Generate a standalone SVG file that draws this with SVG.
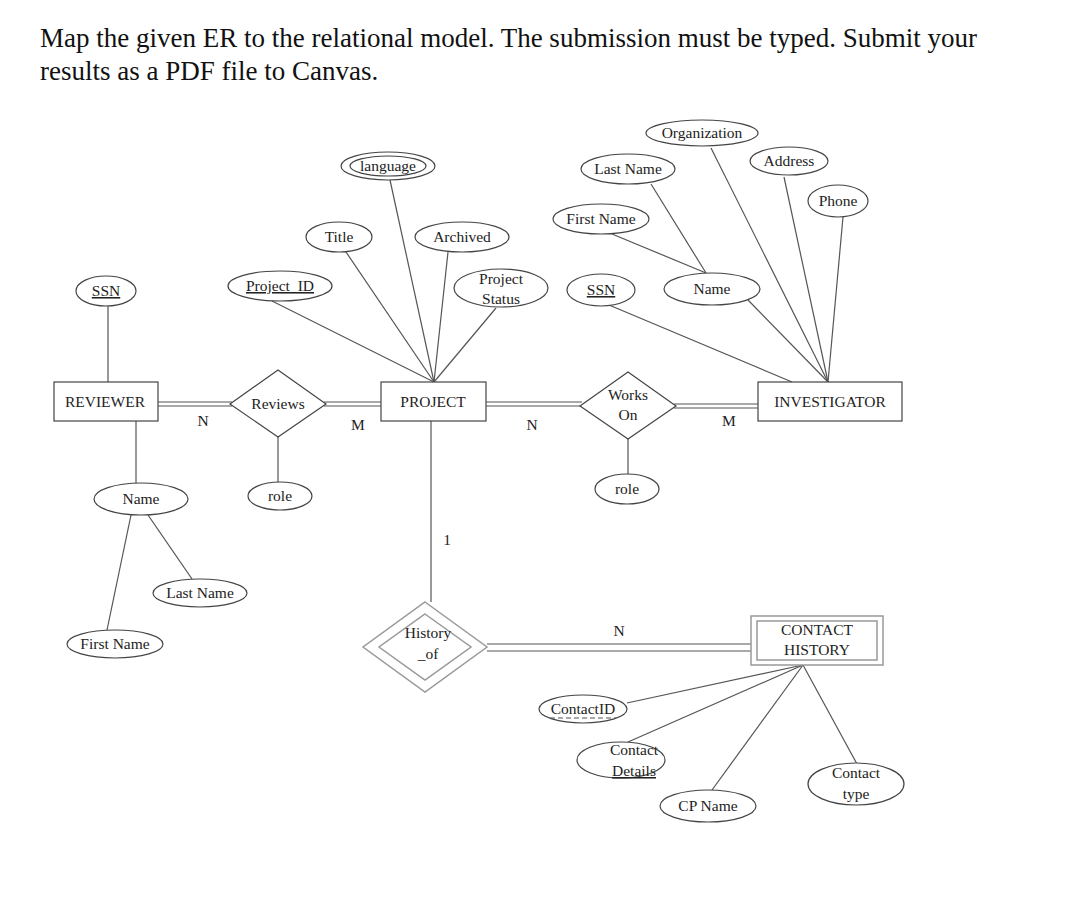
<svg xmlns="http://www.w3.org/2000/svg" width="1081" height="901" viewBox="0 0 1081 901">
<style>
text{font-family:"Liberation Serif","Times New Roman",serif;font-size:15.5px;fill:#222;text-anchor:middle}
.h{font-size:27px;text-anchor:start;fill:#111}
.s{fill:#fff;stroke:#444;stroke-width:1.2}
.g{fill:#fff;stroke:#999;stroke-width:1.5}
line,path{stroke:#555;stroke-width:1.2;fill:none}
</style>
<rect width="1081" height="901" fill="#fff"/>
<text class="h" x="40" y="47">Map the given ER to the relational model. The submission must be typed. Submit your</text>
<text class="h" x="40" y="80">results as a PDF file to Canvas.</text>
<g id="connectors">
<line x1="272" y1="301" x2="434" y2="382"/><line x1="346" y1="252" x2="434" y2="382"/><line x1="390" y1="180" x2="434" y2="382"/><line x1="448" y1="252" x2="434" y2="382"/><line x1="496" y1="308" x2="434" y2="382"/>
<line x1="609" y1="305" x2="792" y2="382"/><line x1="748" y1="300" x2="828" y2="382"/><line x1="711" y1="148" x2="828" y2="382"/><line x1="784" y1="177" x2="828" y2="382"/><line x1="843" y1="217" x2="828" y2="382"/>
<line x1="612" y1="234" x2="706" y2="273"/><line x1="651" y1="184" x2="706" y2="273"/>
<line x1="803" y1="665" x2="627" y2="703"/><line x1="803" y1="665" x2="628" y2="742"/><line x1="803" y1="665" x2="712" y2="790"/><line x1="803" y1="665" x2="857" y2="764"/>
<line x1="108" y1="306" x2="108" y2="382"/><line x1="136" y1="421" x2="136" y2="483"/><line x1="131" y1="515" x2="107" y2="630"/><line x1="148" y1="515" x2="192" y2="579"/>
<line x1="278" y1="437" x2="278" y2="482"/><line x1="628" y1="439" x2="628" y2="474"/><line x1="431" y1="421" x2="431" y2="602"/>
<line x1="158" y1="402" x2="232" y2="402"/><line x1="158" y1="406" x2="232" y2="406"/>
<line x1="324" y1="402" x2="381" y2="402"/><line x1="324" y1="406" x2="381" y2="406"/>
<line x1="486" y1="402" x2="582" y2="402"/><line x1="486" y1="406" x2="582" y2="406"/>
<line x1="674" y1="404" x2="758" y2="404"/><line x1="674" y1="408" x2="758" y2="408"/>
<line x1="487" y1="644" x2="757" y2="644"/><line x1="487" y1="651" x2="757" y2="651"/>
</g>
<g id="labels"><text x="203" y="426">N</text><text x="358" y="430">M</text><text x="532" y="430">N</text><text x="729" y="426">M</text><text x="447" y="545" font-size="13">1</text><text x="619" y="636">N</text></g>
<g id="REVIEWER"><rect class="s" x="54" y="382" width="104" height="39"/><text x="105" y="407">REVIEWER</text></g>
<g id="PROJECT"><rect class="s" x="381" y="382" width="105" height="39"/><text x="433" y="407">PROJECT</text></g>
<g id="INVESTIGATOR"><rect class="s" x="758" y="382" width="144" height="39"/><text x="830" y="407">INVESTIGATOR</text></g>
<g id="Reviews"><path class="s" d="M278 370 L326 404 L278 437 L230 404 Z"/><text x="278" y="409">Reviews</text></g>
<g id="WorksOn"><path class="s" d="M628 372 L676 406 L628 439 L580 406 Z"/><text x="628" y="400">Works</text><text x="628" y="420">On</text></g>
<g id="History_of"><path class="g" d="M425 602 L487 647 L425 692 L363 647 Z"/><path class="g" d="M425 614 L471 647 L425 680 L379 647 Z"/><text x="428" y="638">History</text><text x="428" y="659">_of</text></g>
<g id="CONTACT_HISTORY"><rect class="g" x="751" y="616" width="132" height="49"/><rect class="g" x="757" y="621" width="120" height="39"/><text x="817" y="635">CONTACT</text><text x="817" y="655">HISTORY</text></g>
<g id="language"><ellipse class="s" cx="388" cy="166" rx="47" ry="14"/><ellipse class="s" cx="388" cy="166" rx="38" ry="10"/><text x="388" y="171">language</text></g>
<g id="Title"><ellipse class="s" cx="339" cy="237" rx="33" ry="15"/><text x="339" y="242">Title</text></g>
<g id="Archived"><ellipse class="s" cx="462" cy="237" rx="47" ry="15"/><text x="462" y="242">Archived</text></g>
<g id="Project_ID"><ellipse class="s" cx="280" cy="286" rx="52" ry="15"/><text x="280" y="291" text-decoration="underline">Project_ID</text></g>
<g id="ProjectStatus"><ellipse class="s" cx="501" cy="288" rx="47" ry="19"/><text x="501" y="284">Project</text><text x="501" y="304">Status</text></g>
<g id="SSN_R"><ellipse class="s" cx="106" cy="291" rx="30" ry="15"/><text x="106" y="296" text-decoration="underline">SSN</text></g>
<g id="Organization"><ellipse class="s" cx="702" cy="133" rx="56" ry="13"/><text x="702" y="138">Organization</text></g>
<g id="LastName_I"><ellipse class="s" cx="628" cy="169" rx="47" ry="15"/><text x="628" y="174">Last Name</text></g>
<g id="Address"><ellipse class="s" cx="789" cy="161" rx="39" ry="14"/><text x="789" y="166">Address</text></g>
<g id="Phone"><ellipse class="s" cx="838" cy="201" rx="30" ry="16"/><text x="838" y="206">Phone</text></g>
<g id="FirstName_I"><ellipse class="s" cx="601" cy="219" rx="48" ry="15"/><text x="601" y="224">First Name</text></g>
<g id="SSN_I"><ellipse class="s" cx="601" cy="290" rx="34" ry="16"/><text x="601" y="295" text-decoration="underline">SSN</text></g>
<g id="Name_I"><ellipse class="s" cx="712" cy="289" rx="48" ry="16"/><text x="712" y="294">Name</text></g>
<g id="role1"><ellipse class="s" cx="280" cy="496" rx="32" ry="14"/><text x="280" y="501">role</text></g>
<g id="role2"><ellipse class="s" cx="627" cy="489" rx="32" ry="15"/><text x="627" y="494">role</text></g>
<g id="Name_R"><ellipse class="s" cx="141" cy="499" rx="47" ry="16"/><text x="141" y="504">Name</text></g>
<g id="LastName_R"><ellipse class="s" cx="200" cy="593" rx="47" ry="14"/><text x="200" y="598">Last Name</text></g>
<g id="FirstName_R"><ellipse class="s" cx="115" cy="644" rx="48" ry="14"/><text x="115" y="649">First Name</text></g>
<g id="ContactID"><ellipse class="s" cx="583" cy="709" rx="44" ry="14"/><text x="583" y="714">ContactID</text><line x1="550" y1="718" x2="616" y2="718" stroke-dasharray="5,3"/></g>
<g id="ContactDetails"><ellipse class="s" cx="621" cy="760" rx="44" ry="18"/><text x="634" y="755">Contact</text><text x="634" y="776" text-decoration="underline">Details</text></g>
<g id="CPName"><ellipse class="s" cx="708" cy="806" rx="48" ry="16"/><text x="708" y="811">CP Name</text></g>
<g id="ContactType"><ellipse class="s" cx="856" cy="784" rx="48" ry="21"/><text x="856" y="778">Contact</text><text x="856" y="799">type</text></g>
</svg>
